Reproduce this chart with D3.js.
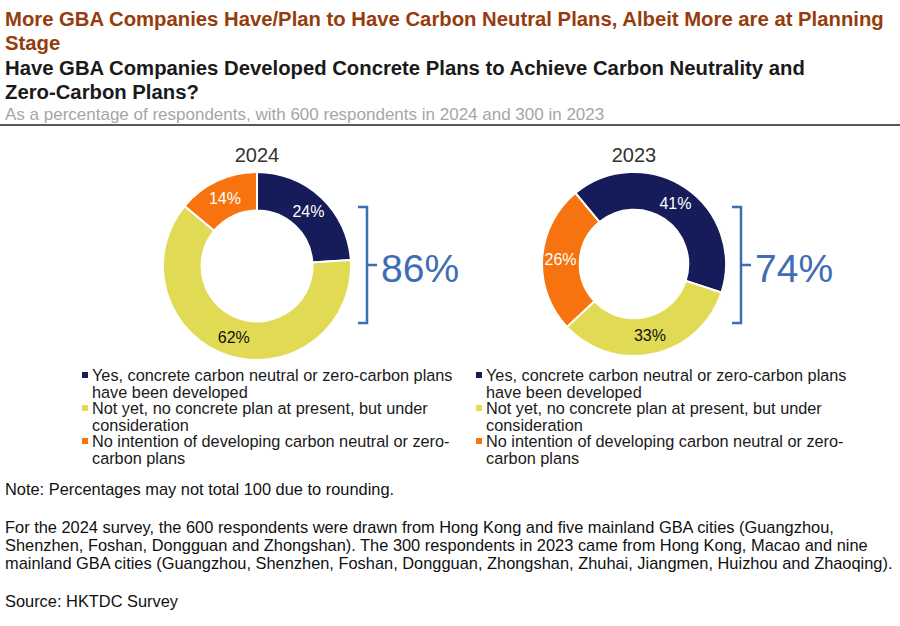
<!DOCTYPE html>
<head>
<meta charset="utf-8">
<script src="https://d3js.org/d3.v7.min.js"></script>
</head>
<body style="margin:0;background:white">
<div id="my_dataviz"></div>
<script>
// categories and values
var categories = ["Yes, concrete carbon neutral or zero-carbon plans have been developed",
                  "Not yet, no concrete plan at present, but under consideration",
                  "No intention of developing carbon neutral or zero-carbon plans"];
var legendLines = [["Yes, concrete carbon neutral or zero-carbon plans", "have been developed"],
                   ["Not yet, no concrete plan at present, but under", "consideration"],
                   ["No intention of developing carbon neutral or zero-", "carbon plans"]];
var years = ["2024", "2023"];
var values2024 = [24, 62, 14];
var values2023 = [41, 33, 26];
var totals = ["86%", "74%"];
var colors = ["#161c5a", "#e1da55", "#f7730f"];
var labelColors = ["#ffffff", "#111111", "#ffffff"];

var width = 900, height = 626;
var svg = d3.select("#my_dataviz").append("svg")
    .attr("width", width).attr("height", height)
    .style("font-family", "Arial, 'Liberation Sans', sans-serif");

// header
svg.append("text").attr("x", 5).attr("y", 26)
    .attr("font-size", 20.3).attr("font-weight", "bold").attr("fill", "#963c0c")
    .text("More GBA Companies Have/Plan to Have Carbon Neutral Plans, Albeit More are at Planning");
svg.append("text").attr("x", 5).attr("y", 50)
    .attr("font-size", 20.3).attr("font-weight", "bold").attr("fill", "#963c0c")
    .text("Stage");
svg.append("text").attr("x", 5).attr("y", 75)
    .attr("font-size", 20.3).attr("font-weight", "bold").attr("fill", "#1a1a1a")
    .text("Have GBA Companies Developed Concrete Plans to Achieve Carbon Neutrality and");
svg.append("text").attr("x", 5).attr("y", 99)
    .attr("font-size", 20.3).attr("font-weight", "bold").attr("fill", "#1a1a1a")
    .text("Zero-Carbon Plans?");
svg.append("text").attr("x", 5).attr("y", 120)
    .attr("font-size", 17).attr("fill", "#a6a6a6")
    .text("As a percentage of respondents, with 600 respondents in 2024 and 300 in 2023");
svg.append("line").attr("x1", 0).attr("x2", width).attr("y1", 125).attr("y2", 125)
    .attr("stroke", "#222").attr("stroke-width", 1.5);

var panels = [
    { year: years[0], values: values2024, cx: 257, cy: 266, r: 94, start: 0, total: totals[0], bx: 367, legendX: 82 },
    { year: years[1], values: values2023, cx: 634, cy: 264, r: 92, start: -0.69, total: totals[1], bx: 741, legendX: 476 }
];

panels.forEach(function (p) {
    var g = svg.append("g").attr("transform", "translate(" + p.cx + "," + p.cy + ")");
    var pie = d3.pie().sort(null).value(function (d) { return d; })
        .startAngle(p.start).endAngle(p.start + 2 * Math.PI);
    var arc = d3.arc().innerRadius(p.r * 0.59).outerRadius(p.r);
    var labelArc = d3.arc().innerRadius(p.r * 0.8).outerRadius(p.r * 0.8);
    var arcs = pie(p.values);

    g.selectAll("path").data(arcs).enter().append("path")
        .attr("d", arc)
        .attr("fill", function (d, i) { return colors[i]; })
        .attr("stroke", "white").attr("stroke-width", 2);

    g.selectAll(".lbl").data(arcs).enter().append("text")
        .attr("transform", function (d) { return "translate(" + labelArc.centroid(d) + ")"; })
        .attr("text-anchor", "middle").attr("dy", "0.35em")
        .attr("font-size", 16)
        .attr("fill", function (d, i) { return labelColors[i]; })
        .text(function (d) { return d.data + "%"; });

    g.append("text").attr("x", 0).attr("y", -p.r - 10)
        .attr("text-anchor", "middle").attr("font-size", 20).attr("fill", "#333")
        .text(p.year);

    // bracket for the total
    var top = 207, bottom = 323, mid = (top + bottom) / 2;
    svg.append("path")
        .attr("d", "M" + (p.bx - 9) + "," + top + "H" + p.bx + "V" + bottom + "H" + (p.bx - 9)
            + "M" + p.bx + "," + mid + "H" + (p.bx + 10))
        .attr("fill", "none").attr("stroke", "#3f6db3").attr("stroke-width", 2.5);
    svg.append("text").attr("x", p.bx + 14).attr("y", 282)
        .attr("font-size", 39).attr("fill", "#3f6db3")
        .text(p.total);

    // legend
    var lg = svg.append("g").attr("transform", "translate(" + p.legendX + ",0)");
    legendLines.forEach(function (lines, i) {
        var y0 = 381 + i * 33;
        lg.append("rect").attr("x", 0).attr("y", y0 - 9).attr("width", 6).attr("height", 6)
            .attr("fill", colors[i]);
        lines.forEach(function (t, j) {
            lg.append("text").attr("x", 10).attr("y", y0 + j * 16.5)
                .attr("font-size", 16.3).attr("fill", "#1a1a1a").text(t);
        });
    });
});

// notes
var notes = [
    ["Note: Percentages may not total 100 due to rounding.", 495],
    ["For the 2024 survey, the 600 respondents were drawn from Hong Kong and five mainland GBA cities (Guangzhou,", 533],
    ["Shenzhen, Foshan, Dongguan and Zhongshan). The 300 respondents in 2023 came from Hong Kong, Macao and nine", 551],
    ["mainland GBA cities (Guangzhou, Shenzhen, Foshan, Dongguan, Zhongshan, Zhuhai, Jiangmen, Huizhou and Zhaoqing).", 569],
    ["Source: HKTDC Survey", 607]
];
svg.selectAll(".note").data(notes).enter().append("text")
    .attr("x", 5).attr("y", function (d) { return d[1]; })
    .attr("font-size", 16.4).attr("fill", "#111")
    .text(function (d) { return d[0]; });
</script>
</body>
</html>
